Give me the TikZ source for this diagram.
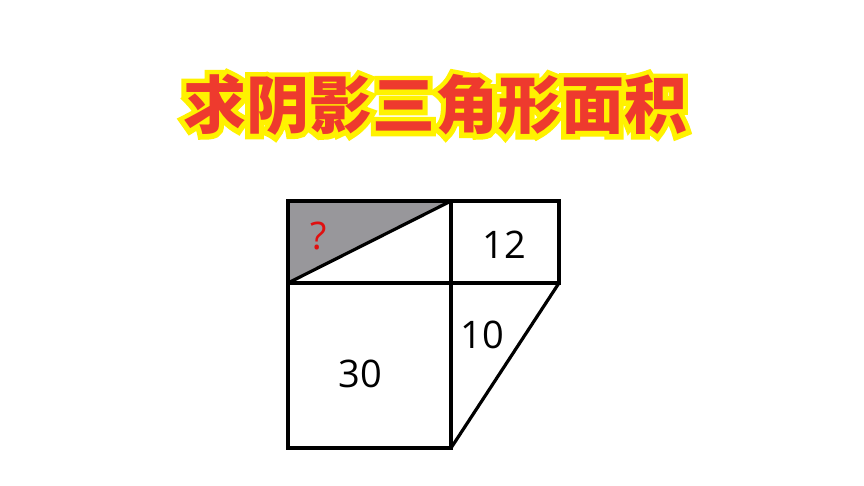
\documentclass[tikz,border=0pt]{standalone}
\usepackage{fontspec}
\setmainfont{Open Sans}
\newfontfamily\cjk{Noto Sans CJK SC}[UprightFont=* Black]
\newfontfamily\cjkglow{Noto Sans CJK SC}[UprightFont=* Black, FakeBold=16]
\definecolor{titlered}{HTML}{EE3A2E}
\definecolor{titleyellow}{HTML}{FFF200}
\definecolor{shadegray}{HTML}{98979B}
\definecolor{qred}{HTML}{E01010}
\tikzset{
  edge/.style={line width=3.2pt, line join=miter},
  num/.style={font=\fontsize{38}{42}\selectfont, inner sep=0pt},
  ttl/.style={font=\cjk\fontsize{63}{68}\selectfont, inner sep=0pt},
  ttlglow/.style={font=\cjkglow\fontsize{63}{68}\selectfont, inner sep=0pt}
}
\begin{document}
\begin{tikzpicture}[x=1pt,y=-1pt]
\useasboundingbox[fill=white] (0,0) rectangle (864,486);
% title with yellow outline
\node[ttlglow, text=titleyellow] (glow) at (435,105) {求阴影三角形面积};
\node[ttl, text=titlered] (title) at (glow.center) {求阴影三角形面积};
% corners
\coordinate (TL) at (288,201);
\coordinate (TM) at (451,201);
\coordinate (TR) at (559,201);
\coordinate (ML) at (288,283);
\coordinate (MM) at (451,283);
\coordinate (MR) at (559,283);
\coordinate (BL) at (288,448);
\coordinate (BM) at (451,448);
% shaded triangle
\fill[shadegray] (TL) -- (TM) -- (ML) -- cycle;
% lines
\draw[edge] (TL) rectangle (MM);
\draw[edge] (TM) rectangle (MR);
\draw[edge] (ML) rectangle (BM);
\draw[edge] (ML) -- (TM);
\draw[edge] (MR) -- (BM);
% labels
\node[num, text=qred] (q) at (319,236) {?};
\node[num] (n12) at (504,245) {12};
\node[num] (n10) at (482,335) {10};
\node[num] (n30) at (360,374) {30};
\end{tikzpicture}
\end{document}
